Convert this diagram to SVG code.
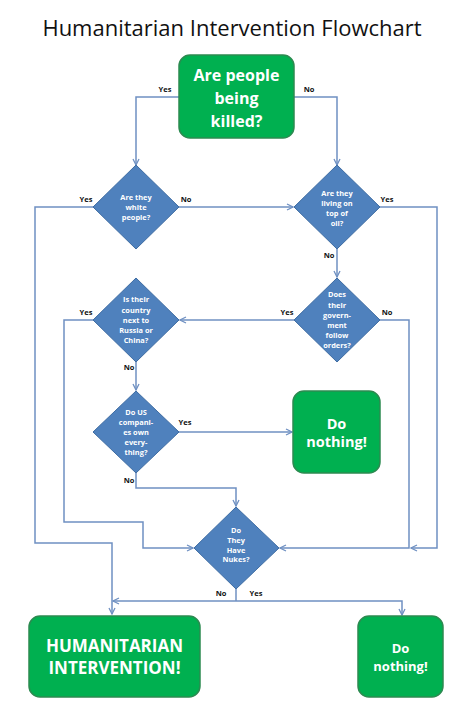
<svg xmlns="http://www.w3.org/2000/svg" width="474" height="725" viewBox="0 0 474 725">
<style>
.bg{fill:#ffffff}
.title{font-family:"Open Sans","Noto Sans",sans-serif;font-size:22px;fill:#111111;text-anchor:middle}
.box{fill:#00B050;stroke:#2C8A50;stroke-width:1.5}
.dia{fill:#4F81BD;stroke:#3F6DA3;stroke-width:1}
.bt{font-family:"Open Sans","Noto Sans",sans-serif;font-weight:bold;fill:#ffffff;text-anchor:middle}
.dt{font-family:"Open Sans","Noto Sans",sans-serif;font-weight:bold;font-size:7.4px;fill:#ffffff;text-anchor:middle}
.lab{font-family:"Open Sans","Noto Sans",sans-serif;font-weight:bold;font-size:7.5px;fill:#111111;text-anchor:middle}
.con{fill:none;stroke:#6F90C2;stroke-width:1.5}
</style>
<defs>
<marker id="ah" viewBox="0 0 8 8" refX="7" refY="4" markerWidth="8" markerHeight="8" markerUnits="userSpaceOnUse" orient="auto">
<path d="M1,1 L7,4 L1,7" fill="none" stroke="#6F90C2" stroke-width="1.3"/>
</marker>
</defs>
<rect class="bg" width="474" height="725"/>
<text class="title" x="232" y="36">Humanitarian Intervention Flowchart</text>

<g id="connectors">
<path class="con" d="M179,97 H136 V165" marker-end="url(#ah)"/>
<path class="con" d="M294,97 H337 V165" marker-end="url(#ah)"/>
<path class="con" d="M179,207 H293" marker-end="url(#ah)"/>
<path class="con" d="M93,207 H35 V543 H112 V614" marker-end="url(#ah)"/>
<path class="con" d="M380,207 H437 V548 H411" marker-end="url(#ah)"/>
<path class="con" d="M337,249 V277" marker-end="url(#ah)"/>
<path class="con" d="M294,320 H180" marker-end="url(#ah)"/>
<path class="con" d="M380,320 H409 V548 H280" marker-end="url(#ah)"/>
<path class="con" d="M93,320 H64 V522 H143 V548 H193" marker-end="url(#ah)"/>
<path class="con" d="M136,361 V390" marker-end="url(#ah)"/>
<path class="con" d="M179,432 H292" marker-end="url(#ah)"/>
<path class="con" d="M136,473 V488 H236 V506" marker-end="url(#ah)"/>
<path class="con" d="M236,589 V601"/>
<path class="con" d="M236,601 H113" marker-end="url(#ah)"/>
<path class="con" d="M236,601 H402 V615" marker-end="url(#ah)"/>
<text class="lab" x="165" y="92">Yes</text>
<text class="lab" x="309" y="92">No</text>
<text class="lab" x="86" y="202">Yes</text>
<text class="lab" x="186" y="202">No</text>
<text class="lab" x="387" y="202">Yes</text>
<text class="lab" x="329" y="258">No</text>
<text class="lab" x="287" y="315">Yes</text>
<text class="lab" x="387" y="315">No</text>
<text class="lab" x="86" y="315">Yes</text>
<text class="lab" x="129" y="370">No</text>
<text class="lab" x="185" y="425">Yes</text>
<text class="lab" x="129" y="483">No</text>
<text class="lab" x="221" y="596">No</text>
<text class="lab" x="256" y="596">Yes</text>
</g>

<g id="n-killed">
<rect class="box" x="179" y="55" width="115" height="83" rx="11"/>
<text class="bt" font-size="16" x="236.5" y="81">Are people</text>
<text class="bt" font-size="16" x="236.5" y="104">being</text>
<text class="bt" font-size="16" x="236.5" y="127">killed?</text>
</g>

<g id="n-white">
<polygon class="dia" points="136,165 179,207 136,249 93,207"/>
<text class="dt" x="136" y="200">Are they</text>
<text class="dt" x="136" y="210">white</text>
<text class="dt" x="136" y="220">people?</text>
</g>

<g id="n-oil">
<polygon class="dia" points="337,165 380,207 337,249 294,207"/>
<text class="dt" x="337" y="196">Are they</text>
<text class="dt" x="337" y="206">living on</text>
<text class="dt" x="337" y="216">top of</text>
<text class="dt" x="337" y="226">oil?</text>
</g>

<g id="n-orders">
<polygon class="dia" points="337,278 380,320 337,362 294,320"/>
<text class="dt" x="337" y="297">Does</text>
<text class="dt" x="337" y="307.5">their</text>
<text class="dt" x="337" y="318">govern-</text>
<text class="dt" x="337" y="328">ment</text>
<text class="dt" x="337" y="338">follow</text>
<text class="dt" x="337" y="348">orders?</text>
</g>

<g id="n-russia">
<polygon class="dia" points="136,278 179,320 136,362 93,320"/>
<text class="dt" x="136" y="302">Is their</text>
<text class="dt" x="136" y="313">country</text>
<text class="dt" x="136" y="323">next to</text>
<text class="dt" x="136" y="333">Russia or</text>
<text class="dt" x="136" y="343">China?</text>
</g>

<g id="n-companies">
<polygon class="dia" points="136,391 179,432 136,473 93,432"/>
<text class="dt" x="136" y="415">Do US</text>
<text class="dt" x="136" y="425">compani-</text>
<text class="dt" x="136" y="435">es own</text>
<text class="dt" x="136" y="445">every-</text>
<text class="dt" x="136" y="455">thing?</text>
</g>

<g id="n-nothing1">
<rect class="box" x="293" y="391" width="87" height="82" rx="11"/>
<text class="bt" font-size="14.5" x="336.5" y="429">Do</text>
<text class="bt" font-size="14.5" x="336.5" y="447">nothing!</text>
</g>

<g id="n-nukes">
<polygon class="dia" points="236,507 279,548 236,589 194,548"/>
<text class="dt" x="236" y="533">Do</text>
<text class="dt" x="236" y="543">They</text>
<text class="dt" x="236" y="553">Have</text>
<text class="dt" x="236" y="562">Nukes?</text>
</g>

<g id="n-intervention">
<rect class="box" x="29" y="616" width="171" height="81" rx="11"/>
<text class="bt" font-size="17" x="114.5" y="652">HUMANITARIAN</text>
<text class="bt" font-size="17" x="114.5" y="674">INTERVENTION!</text>
</g>

<g id="n-nothing2">
<rect class="box" x="358" y="616" width="85" height="81" rx="11"/>
<text class="bt" font-size="13" x="400.5" y="653">Do</text>
<text class="bt" font-size="13" x="400.5" y="671">nothing!</text>
</g>
</svg>
